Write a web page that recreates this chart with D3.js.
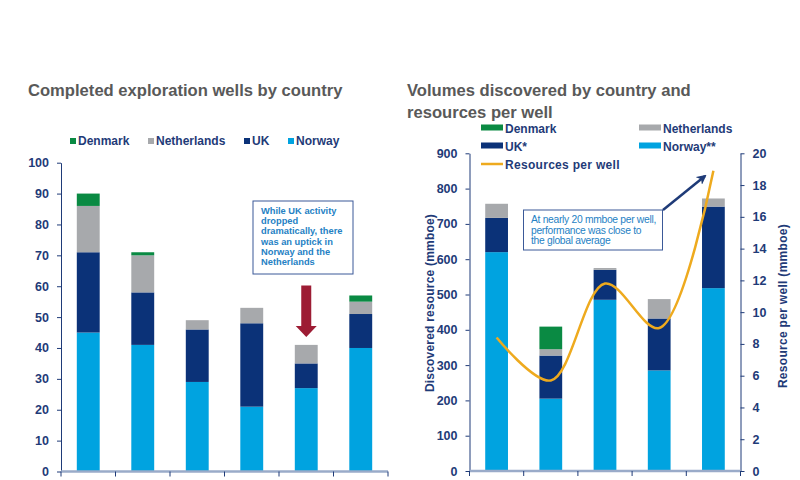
<!DOCTYPE html>
<html>
<head>
<meta charset="utf-8">
<script src="https://cdn.jsdelivr.net/npm/d3@7"></script>
<style>
  body { margin: 0; background: #fff; }
  svg { display: block; font-family: "Liberation Sans", Arial, sans-serif; }
</style>
</head>
<body>
<div id="chart"></div>
<script>
// ---- data: left chart, completed wells ----
const wellYears = ["2010", "2011", "2012", "2013", "2014", "2015"];
const wellsNorway = [45, 41, 29, 21, 27, 40];
const wellsUK = [26, 17, 17, 27, 8, 11];
const wellsNetherlands = [15, 12, 3, 5, 6, 4];
const wellsDenmark = [4, 1, 0, 0, 0, 2];
const wellTicks = [0, 10, 20, 30, 40, 50, 60, 70, 80, 90, 100];

// ---- data: right chart, volumes discovered ----
const volYears = ["2011", "2012", "2013", "2014", "2015"];
const volNorway = [620, 205, 485, 285, 518];
const volUK = [97, 122, 85, 147, 231];
const volNetherlands = [40, 18, 5, 55, 23];
const volDenmark = [0, 64, 0, 0, 0];
const perWell = [8.4, 5.7, 11.8, 9.0, 18.9];
const volTicks = [0, 100, 200, 300, 400, 500, 600, 700, 800, 900];
const perWellTicks = [0, 2, 4, 6, 8, 10, 12, 14, 16, 18, 20];

const colors = {
  Norway: "#00a3e0",
  UK: "#0b3278",
  Netherlands: "#a7a9ac",
  Denmark: "#0a8a43",
  line: "#eeaa1e"
};
const navy = "#1f3b78";
const axisGrey = "#9aabc9";

const W = 800, H = 480;
const svg = d3.select("#chart").append("svg").attr("width", W).attr("height", H);

// draw stacked bars for a chart
function stackedBars(g, cats, series, x, y, barFrac) {
  const keys = series.map(s => s.key);
  const rows = cats.map((c, i) => {
    const r = { cat: c };
    series.forEach(s => r[s.key] = s.values[i]);
    return r;
  });
  const stacked = d3.stack().keys(keys)(rows);
  const bw = x.bandwidth() * barFrac;
  g.selectAll("g.layer")
    .data(stacked)
    .join("g")
    .attr("class", "layer")
    .attr("fill", d => colors[d.key])
    .selectAll("rect")
    .data(d => d.filter(p => p[1] > p[0]))
    .join("rect")
    .attr("x", d => x(d.data.cat) + (x.bandwidth() - bw) / 2)
    .attr("width", bw)
    .attr("y", d => y(d[1]))
    .attr("height", d => y(d[0]) - y(d[1]));
}

// category axis: thick grey base line with ticks between the bars
// (the year labels sit below the visible area in the original)
function bottomAxis(g, cats, x, y0) {
  const r = x.range();
  g.append("line")
    .attr("x1", r[0]).attr("x2", r[1])
    .attr("y1", y0).attr("y2", y0)
    .attr("stroke", axisGrey).attr("stroke-width", 2.5);
  const edges = cats.map(c => x(c)).concat([r[1]]);
  g.selectAll("line.xt")
    .data(edges)
    .join("line")
    .attr("class", "xt")
    .attr("x1", d => d).attr("x2", d => d)
    .attr("y1", y0).attr("y2", y0 + 5)
    .attr("stroke", navy).attr("stroke-width", 1);
}

function styleAxis(a) {
  a.select(".domain").attr("stroke", navy).attr("stroke-width", 1);
  a.selectAll(".tick line").attr("stroke", navy);
  a.selectAll(".tick text")
    .attr("fill", navy)
    .attr("font-size", 12.5)
    .attr("font-weight", "bold")
    .attr("font-family", "Liberation Sans, Arial, sans-serif");
}

/////////////////////////////
// LEFT: exploration wells //
/////////////////////////////
const xL = d3.scaleBand().domain(wellYears).range([61, 388]).padding(0);
const yL = d3.scaleLinear().domain([0, 100]).range([471.5, 162.7]);

svg.append("text")
  .attr("x", 28).attr("y", 96)
  .attr("font-size", 16.6).attr("font-weight", "bold")
  .attr("fill", "#595959")
  .text("Completed exploration wells by country");

const legL = [
  { key: "Denmark", x: 70 },
  { key: "Netherlands", x: 148 },
  { key: "UK", x: 244 },
  { key: "Norway", x: 288 }
];
const lgL = svg.append("g").selectAll("g").data(legL).join("g")
  .attr("transform", d => `translate(${d.x},145)`);
lgL.append("rect").attr("x", 0).attr("y", -7).attr("width", 6).attr("height", 6)
  .attr("fill", d => colors[d.key]);
lgL.append("text").attr("x", 8).attr("y", 0)
  .attr("font-size", 12).attr("font-weight", "bold").attr("fill", navy)
  .text(d => d.key);

const gL = svg.append("g");
stackedBars(gL, wellYears, [
  { key: "Norway", values: wellsNorway },
  { key: "UK", values: wellsUK },
  { key: "Netherlands", values: wellsNetherlands },
  { key: "Denmark", values: wellsDenmark }
], xL, yL, 0.42);

const axL = svg.append("g")
  .attr("transform", "translate(61,0)")
  .call(d3.axisLeft(yL).tickValues(wellTicks).tickSize(4).tickSizeOuter(0).tickPadding(8));
styleAxis(axL);
bottomAxis(svg.append("g"), wellYears, xL, 471.5);

// annotation box
const annL = svg.append("g");
annL.append("rect")
  .attr("x", 253).attr("y", 201).attr("width", 100).attr("height", 73)
  .attr("fill", "#fff").attr("stroke", "#3b5998").attr("stroke-width", 1);
const annLines = ["While UK activity", "dropped", "dramatically, there", "was an uptick in", "Norway and the", "Netherlands"];
annL.append("text")
  .attr("font-size", 9.3).attr("font-weight", "bold").attr("fill", "#2581c4")
  .selectAll("tspan").data(annLines).join("tspan")
  .attr("x", 261).attr("y", (d, i) => 214 + i * 10.2)
  .text(d => d);

// red down arrow above the 5th bar
const arrowX = xL(wellYears[4]) + xL.bandwidth() / 2;
const arrowTop = 285.5, arrowTip = yL(41) - 8;
svg.append("path")
  .attr("d", `M${arrowX - 5},${arrowTop} L${arrowX + 5},${arrowTop} L${arrowX + 5},${arrowTip - 11}
    L${arrowX + 10.5},${arrowTip - 11} L${arrowX},${arrowTip} L${arrowX - 10.5},${arrowTip - 11}
    L${arrowX - 5},${arrowTip - 11} Z`)
  .attr("fill", "#9d1c34");

////////////////////////////////
// RIGHT: volumes discovered  //
////////////////////////////////
const xR = d3.scaleBand().domain(volYears).range([469.5, 740.5]).padding(0);
const yR = d3.scaleLinear().domain([0, 900]).range([471, 153.3]);
const yR2 = d3.scaleLinear().domain([0, 20]).range([471, 153.3]);

svg.append("text")
  .attr("font-size", 16.6).attr("font-weight", "bold").attr("fill", "#595959")
  .selectAll("tspan").data(["Volumes discovered by country and", "resources per well"]).join("tspan")
  .attr("x", 407).attr("y", (d, i) => 96 + i * 21.5)
  .text(d => d);

const legR = [
  { key: "Denmark", label: "Denmark", x: 481, y: 128 },
  { key: "Netherlands", label: "Netherlands", x: 639, y: 128 },
  { key: "UK", label: "UK*", x: 481, y: 146 },
  { key: "Norway", label: "Norway**", x: 639, y: 146 }
];
const lgR = svg.append("g").selectAll("g").data(legR).join("g")
  .attr("transform", d => `translate(${d.x},${d.y})`);
lgR.append("rect").attr("x", 0).attr("y", -3.5).attr("width", 22).attr("height", 6)
  .attr("fill", d => colors[d.key]);
lgR.append("text").attr("x", 24).attr("y", 4.5)
  .attr("font-size", 12).attr("font-weight", "bold").attr("fill", navy)
  .text(d => d.label);
const lineLeg = svg.append("g").attr("transform", "translate(481,164)");
lineLeg.append("line").attr("x1", 0).attr("x2", 22).attr("y1", 0).attr("y2", 0)
  .attr("stroke", colors.line).attr("stroke-width", 2.5);
lineLeg.append("text").attr("x", 24).attr("y", 4.5)
  .attr("font-size", 12).attr("font-weight", "bold").attr("fill", navy)
  .attr("letter-spacing", 0.3)
  .text("Resources per well");

const gR = svg.append("g");
stackedBars(gR, volYears, [
  { key: "Norway", values: volNorway },
  { key: "UK", values: volUK },
  { key: "Netherlands", values: volNetherlands },
  { key: "Denmark", values: volDenmark }
], xR, yR, 0.42);

const axR1 = svg.append("g")
  .attr("transform", "translate(469.5,0)")
  .call(d3.axisLeft(yR).tickValues(volTicks).tickSize(4).tickSizeOuter(0).tickPadding(8));
styleAxis(axR1);
const axR2 = svg.append("g")
  .attr("transform", "translate(740.5,0)")
  .call(d3.axisRight(yR2).tickValues(perWellTicks).tickSize(4).tickSizeOuter(0).tickPadding(8));
styleAxis(axR2);
bottomAxis(svg.append("g"), volYears, xR, 471);

svg.append("text")
  .attr("transform", "translate(434,303) rotate(-90)")
  .attr("text-anchor", "middle")
  .attr("font-size", 12).attr("font-weight", "bold").attr("fill", navy)
  .attr("letter-spacing", 0.2)
  .text("Discovered resource (mmboe)");
svg.append("text")
  .attr("transform", "translate(787,306) rotate(-90)")
  .attr("text-anchor", "middle")
  .attr("font-size", 12).attr("font-weight", "bold").attr("fill", navy)
  .attr("letter-spacing", 0.3)
  .text("Resource per well (mmboe)");

// resources per well line
const line = d3.line()
  .x((d, i) => xR(volYears[i]) + xR.bandwidth() / 2)
  .y(d => yR2(d))
  .curve(d3.curveCatmullRom.alpha(0.5));
svg.append("path")
  .datum(perWell)
  .attr("d", line)
  .attr("fill", "none")
  .attr("stroke", colors.line)
  .attr("stroke-width", 2.5);

// annotation box + arrow
const annR = svg.append("g");
annR.append("rect")
  .attr("x", 523.5).attr("y", 210).attr("width", 139).attr("height", 40)
  .attr("fill", "#fff").attr("stroke", "#3b5998").attr("stroke-width", 1);
annR.append("text")
  .attr("font-size", 10.3).attr("fill", "#2581c4").attr("letter-spacing", -0.3)
  .selectAll("tspan").data(["At nearly 20 mmboe per well,", "performance was close to", "the global average"]).join("tspan")
  .attr("x", 531).attr("y", (d, i) => 223 + i * 10.5)
  .text(d => d);

svg.append("defs").append("marker")
  .attr("id", "ah").attr("viewBox", "0 0 10 10")
  .attr("refX", 8).attr("refY", 5)
  .attr("markerWidth", 4).attr("markerHeight", 4)
  .attr("orient", "auto")
  .append("path").attr("d", "M0,0 L10,5 L0,10 L3,5 Z").attr("fill", "#1f3b78");
svg.append("line")
  .attr("x1", 663).attr("y1", 210).attr("x2", 705).attr("y2", 176)
  .attr("stroke", "#1f3b78").attr("stroke-width", 2.5)
  .attr("marker-end", "url(#ah)");
</script>
</body>
</html>
